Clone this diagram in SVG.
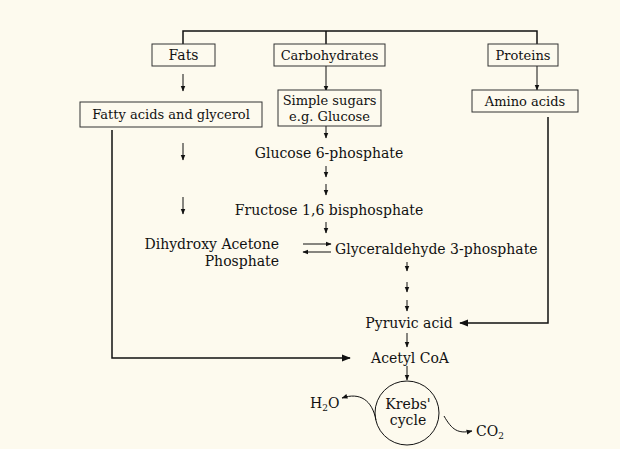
<svg xmlns="http://www.w3.org/2000/svg" width="620" height="449" viewBox="0 0 620 449">
<style>
text{font-family:"DejaVu Serif","Liberation Serif",serif;font-size:14px;fill:#111}
.s{font-size:13px}
.b{fill:#fdfaee;stroke:#333;stroke-width:1}
.l{fill:none;stroke:#111;stroke-width:1.5}
.t{fill:none;stroke:#111;stroke-width:1}
.m{text-anchor:middle}
</style>
<defs><marker id="a" viewBox="0 0 10 10" refX="9" refY="5" markerWidth="6" markerHeight="6" orient="auto"><path d="M0,1L10,5L0,9z" fill="#111"/></marker></defs>
<rect width="620" height="449" fill="#fdfaee"/>
<g id="connectors">
<path class="l" d="M183,44V31H537V44M326,31V44"/>
<path class="t" marker-end="url(#a)" d="M183,74V91"/>
<path class="t" marker-end="url(#a)" d="M326,66V91"/>
<path class="t" marker-end="url(#a)" d="M537,66V90"/>
<path class="t" marker-end="url(#a)" d="M326,126V138"/>
<path class="t" marker-end="url(#a)" d="M183,143V160"/>
<path class="t" marker-end="url(#a)" d="M183,197V214"/>
<path class="t" marker-end="url(#a)" d="M326,166V177"/>
<path class="t" marker-end="url(#a)" d="M326,184V195"/>
<path class="t" marker-end="url(#a)" d="M326,222V233"/>
<path class="t" marker-end="url(#a)" d="M303,244H331"/>
<path class="t" marker-end="url(#a)" d="M331,252H303"/>
<path class="t" marker-end="url(#a)" d="M407,262V271"/>
<path class="t" marker-end="url(#a)" d="M407,282V292"/>
<path class="t" marker-end="url(#a)" d="M407,300V311"/>
<path class="l" marker-end="url(#a)" d="M548,117V323H460"/>
<path class="t" marker-end="url(#a)" d="M407,333V347"/>
<path class="l" marker-end="url(#a)" d="M112,130V358H350"/>
<path class="t" marker-end="url(#a)" d="M407,366V380"/>
<path class="t" marker-end="url(#a)" d="M376,420C372,400 360,392 342,398"/>
<path class="t" marker-end="url(#a)" d="M444,416C452,430 458,434 472,431"/>
</g>
<g id="fats"><rect class="b" x="152" y="44" width="63" height="22"/><text class="m" x="183.5" y="60">Fats</text></g>
<g id="carbohydrates"><rect class="b" x="274" y="44" width="111" height="22"/><text class="m s" x="329.5" y="60">Carbohydrates</text></g>
<g id="proteins"><rect class="b" x="488" y="44" width="70" height="22"/><text class="m s" x="523" y="60">Proteins</text></g>
<g id="fatty"><rect class="b" x="80" y="102" width="182" height="25"/><text class="m s" x="171" y="119">Fatty acids and glycerol</text></g>
<g id="sugars"><rect class="b" x="278" y="90" width="103" height="36"/><text class="m s" x="329.5" y="105">Simple sugars</text><text class="m s" x="329.5" y="121">e.g. Glucose</text></g>
<g id="amino"><rect class="b" x="472" y="90" width="106" height="22"/><text class="m s" x="525" y="106">Amino acids</text></g>
<g id="g6p"><text class="m" x="329" y="158">Glucose 6-phosphate</text></g>
<g id="fbp"><text class="m" x="329" y="215">Fructose 1,6 bisphosphate</text></g>
<g id="dhap"><text x="279" y="249" text-anchor="end">Dihydroxy Acetone</text><text x="279" y="266" text-anchor="end">Phosphate</text></g>
<g id="g3p"><text x="335" y="254">Glyceraldehyde 3-phosphate</text></g>
<g id="pyruvic"><text class="m" x="409" y="328">Pyruvic acid</text></g>
<g id="acetyl"><text class="m" x="410" y="363">Acetyl CoA</text></g>
<g id="krebs"><circle class="t" cx="407" cy="413" r="32"/><text class="m" x="408" y="409">Krebs'</text><text class="m" x="408" y="425">cycle</text></g>
<g id="h2o"><text x="310" y="408">H<tspan font-size="9" dy="3">2</tspan><tspan dy="-3">O</tspan></text></g>
<g id="co2"><text x="476" y="436">CO<tspan font-size="9" dy="3">2</tspan></text></g>
</svg>
